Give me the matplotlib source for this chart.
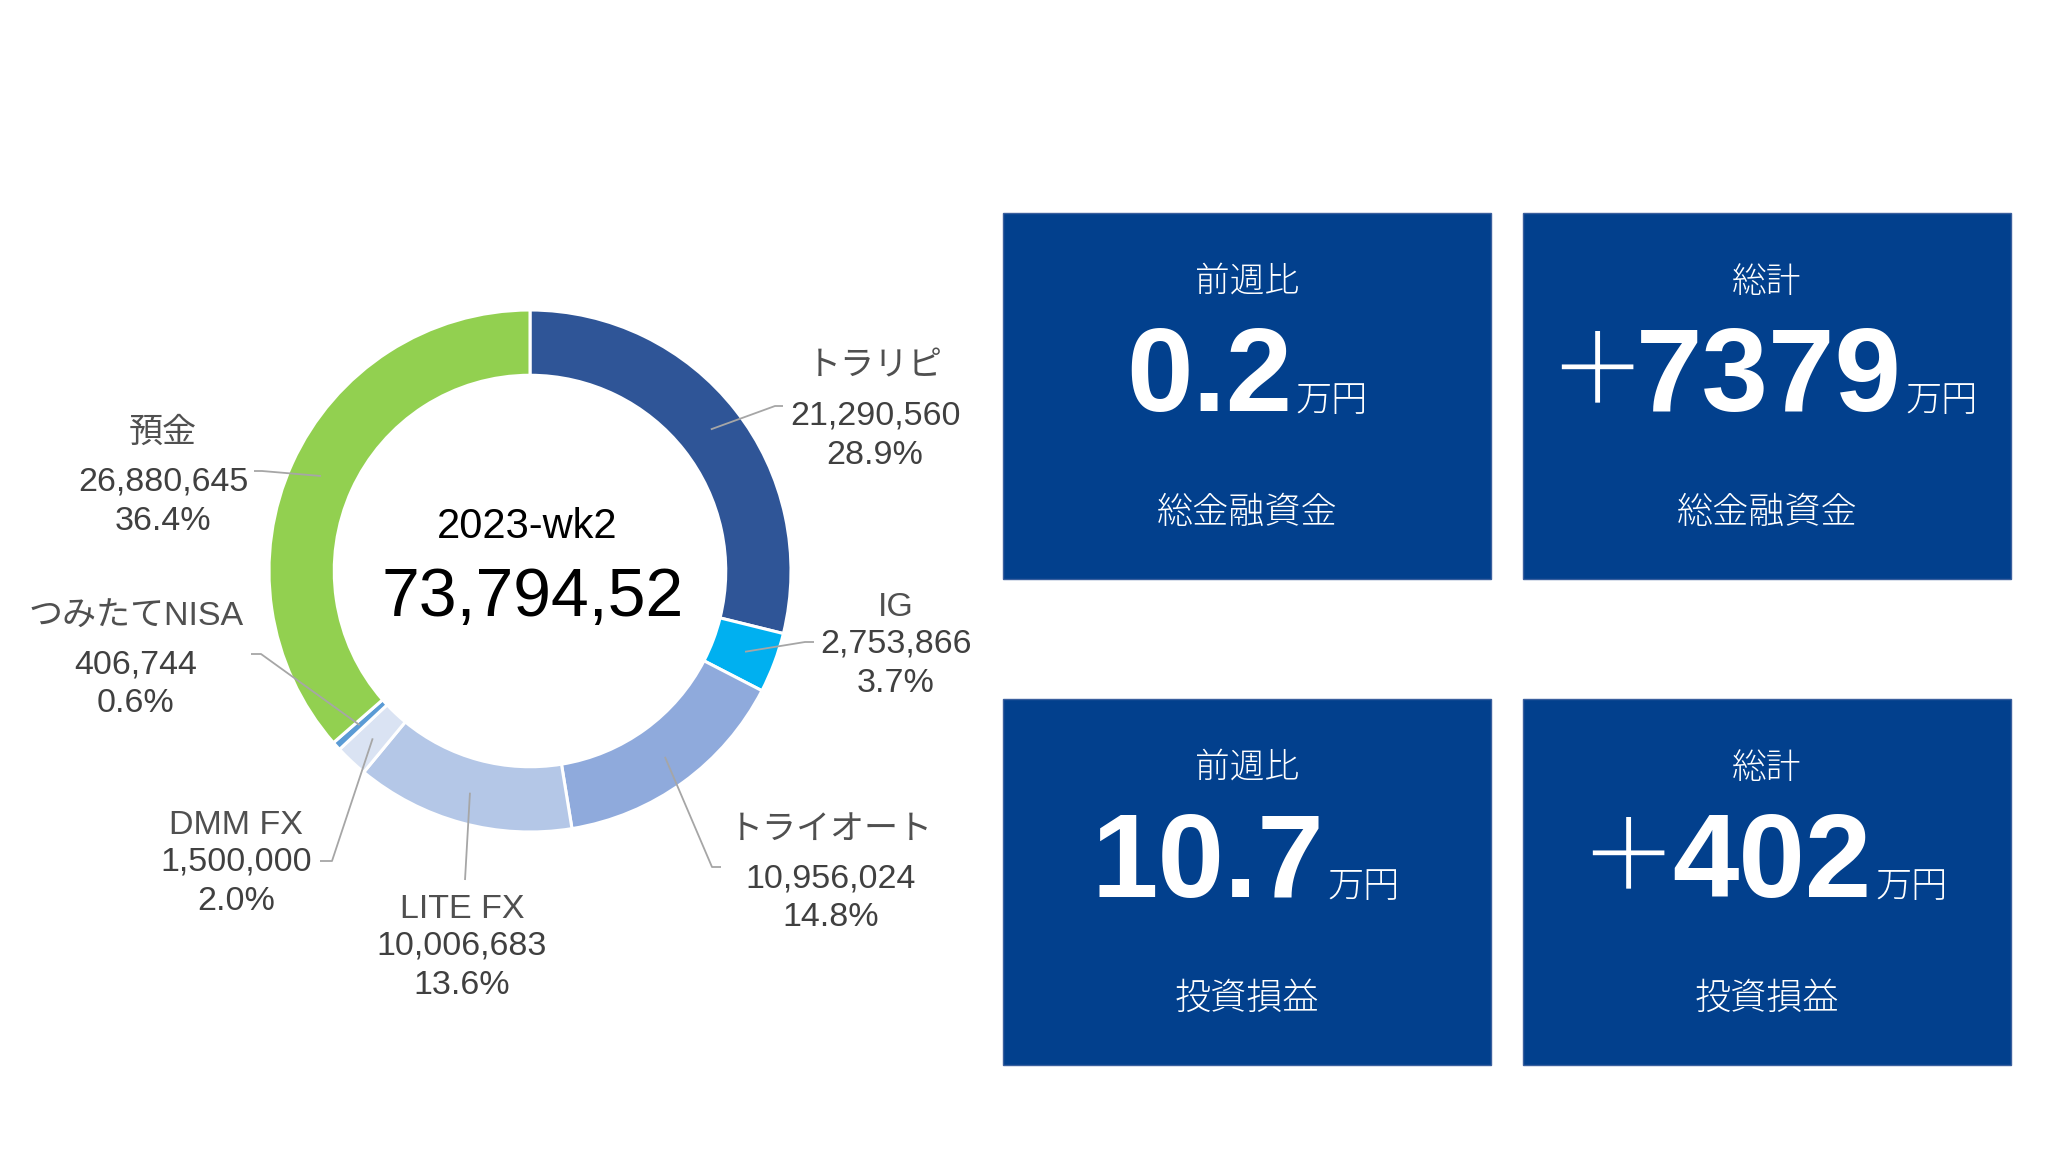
import matplotlib
matplotlib.use('Agg')
import matplotlib.pyplot as plt
from matplotlib.patches import Rectangle
import numpy as np

# ---------------- data ----------------
categories = ['トラリピ', 'IG', 'トライオート', 'LITE FX', 'DMM FX', 'つみたてNISA', '預金']
values = [21290560, 2753866, 10956024, 10006683, 1500000, 406744, 26880645]
colors = ['#2F5597', '#00B0F0', '#8FAADC', '#B4C7E7', '#DAE3F3', '#5B9BD5', '#92D050']
center_title = '2023-wk2'
center_total = '73,794,52'

box_headers = ['前週比', '総計', '前週比', '総計']
box_signs = ['', '＋', '', '＋']
box_numbers = ['0.2', '7379', '10.7', '402']
box_units = ['万円', '万円', '万円', '万円']
box_footers = ['総金融資金', '総金融資金', '投資損益', '投資損益']

# ---------------- layout ----------------
W, H = 2048, 1152
CX, CY, R = 530, 571, 261
RING = 0.25

plt.rcParams['font.family'] = ['Liberation Sans', 'Noto Sans CJK JP', 'DejaVu Sans']
fig = plt.figure(figsize=(W / 100, H / 100), dpi=100)
fig.patch.set_facecolor('white')

half = 300
pax = fig.add_axes([(CX - half) / W, (H - CY - half) / H, 2 * half / W, 2 * half / H])
wedges, _ = pax.pie(values, colors=colors, startangle=90, counterclock=False, radius=1.0,
                    wedgeprops=dict(width=RING, edgecolor='white', linewidth=2.2))
lim = half / R
pax.set_xlim(-lim, lim)
pax.set_ylim(-lim, lim)
pax.set_aspect('equal')
pax.axis('off')

ax = fig.add_axes([0, 0, 1, 1])
ax.set_xlim(0, W)
ax.set_ylim(H, 0)
ax.axis('off')
ax.patch.set_alpha(0)

# center text
ax.text(CX - 3, 527, center_title, ha='center', va='center', fontsize=30, color='black')
ax.text(CX + 3, 598, center_total, ha='center', va='center', fontsize=49, color='black')

# labels: x, name_y, value_y, pct_y
label_pos = [
    (875, 367, 416, 456),
    (896, 607, 644, 683),
    (831, 830, 879, 918),
    (462, 909, 946, 985),
    (236, 825, 862, 902),
    (136, 617, 665, 704),
    (163, 433, 482, 521),
]
leader_pts = [
    [(775, 406), (783, 406)],
    [(805, 642), (814, 642)],
    [(712, 867), (721, 867)],
    [(465, 880)],
    [(332, 861), (320, 861)],
    [(261, 654), (251, 654)],
    [(262, 471), (254, 471)],
]

total = sum(values)
gray = '#404040'
for i, w in enumerate(wedges):
    mid = np.deg2rad((w.theta1 + w.theta2) / 2)
    sx = CX + R * 0.88 * np.cos(mid)
    sy = CY - R * 0.88 * np.sin(mid)
    pts = [(sx, sy)] + leader_pts[i]
    xs, ys = zip(*pts)
    ax.plot(xs, ys, color='#A6A6A6', lw=1.3, solid_capstyle='butt')
    x, ny, vy, py = label_pos[i]
    ax.text(x, ny, categories[i], ha='center', va='center', fontsize=24.5, color='#505050')
    ax.text(x, vy, f'{values[i]:,}', ha='center', va='center', fontsize=24.5, color=gray)
    ax.text(x, py, f'{values[i] / total:.1%}', ha='center', va='center', fontsize=24.5, color=gray)

# KPI boxes
box_rects = [(1003, 213), (1523, 213), (1003, 699), (1523, 699)]
box_w, box_h = 488, 366
box_color = '#02408D'
num_layout = [
    (None, 1292),
    (1645, 1902),
    (None, 1324),
    (1676, 1872),
]
jp = ['Noto Sans CJK JP']
for i, (bx, by) in enumerate(box_rects):
    ax.add_patch(Rectangle((bx, by), box_w, box_h, facecolor=box_color,
                           edgecolor='#3A5F9E', lw=1.0))
    cx = bx + box_w / 2
    ax.text(cx, by + 69, box_headers[i], ha='center', va='center', fontsize=25,
            color='white', family=jp, weight='light')
    ax.text(cx, by + 300, box_footers[i], ha='center', va='center', fontsize=26,
            color='white', family=jp, weight='light')
    base = by + 198
    sign_r, num_r = num_layout[i]
    ax.text(num_r, base, box_numbers[i], ha='right', va='baseline', fontsize=86,
            color='white', weight='bold', family=['Liberation Sans'])
    if box_signs[i]:
        ax.text(sign_r, base - 36, box_signs[i], ha='right', va='center', fontsize=70,
                color='white', family=jp, weight='light')
    ax.text(num_r + 3, base, box_units[i], ha='left', va='baseline', fontsize=26,
            color='white', family=jp, weight='light')

fig.savefig('out.png', dpi=100, facecolor='white')
